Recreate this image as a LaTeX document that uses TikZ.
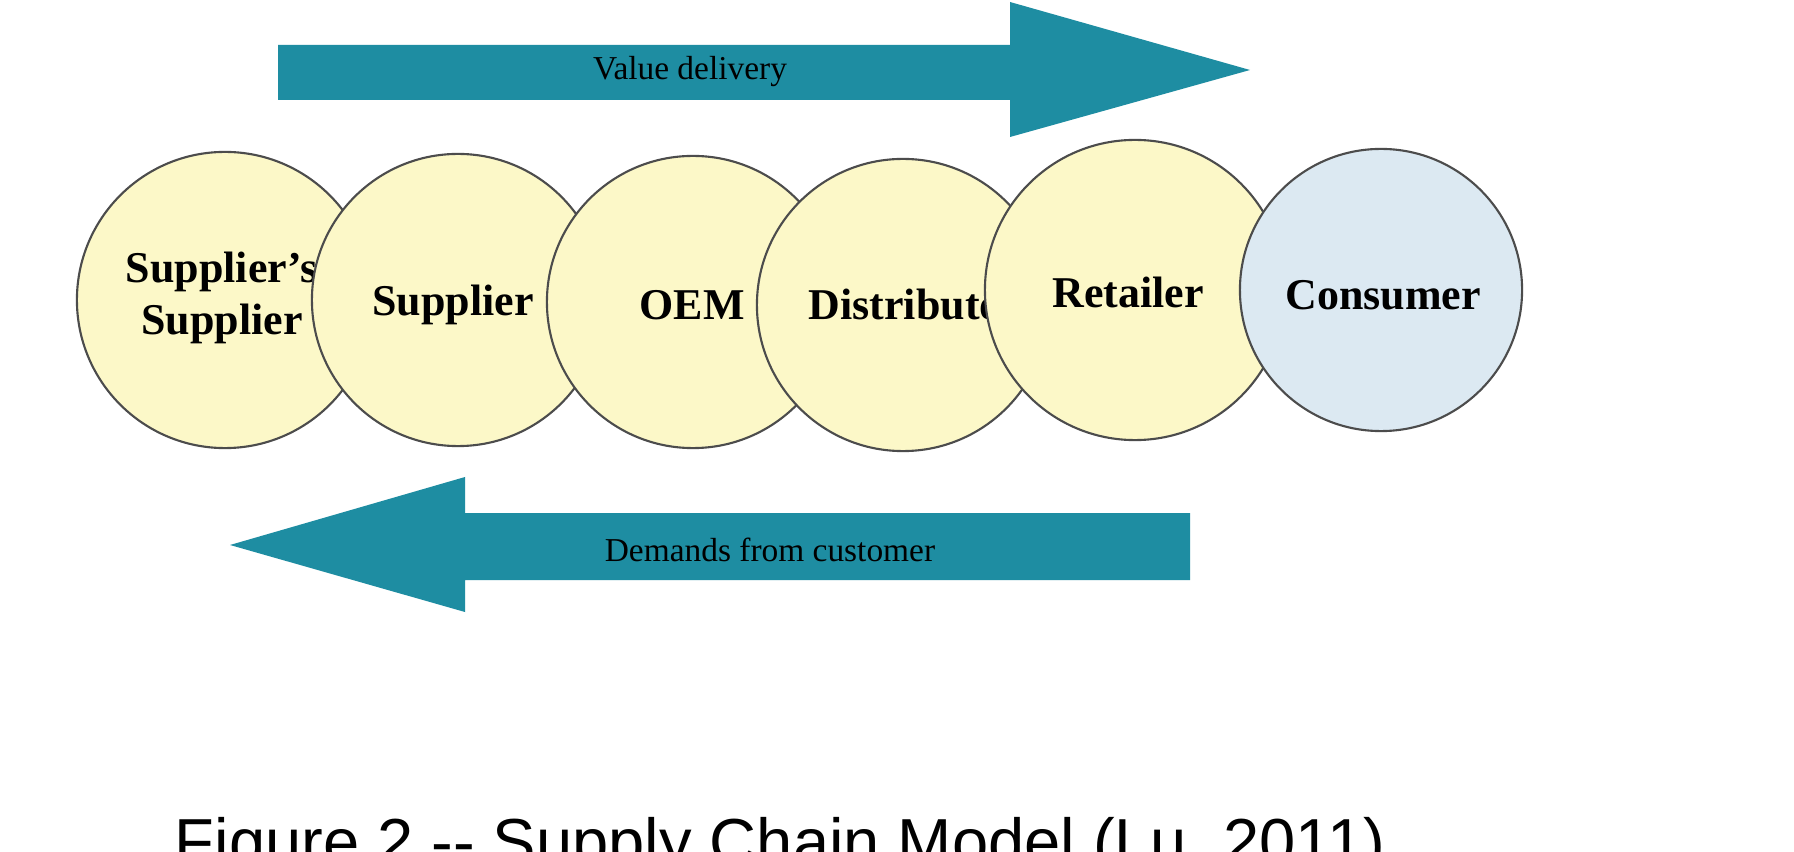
\documentclass[tikz,border=0pt]{standalone}
\usepackage{fontspec}
\setmainfont{Liberation Serif}
\newfontfamily\capfont{Liberation Sans}
\definecolor{teal1}{HTML}{1E8DA2}
\definecolor{cream}{HTML}{FCF8C8}
\definecolor{lblue}{HTML}{DCE9F2}
\begin{document}
\begin{tikzpicture}[x=0.01cm,y=-0.01cm,
  circ/.style={circle,draw=black!70,line width=0.6pt,fill=cream,minimum size=#1,inner sep=0pt},
  ctext/.style={font=\fontsize{12.5}{15}\selectfont\bfseries,align=center},
  arr/.style={fill=teal1},
  lab/.style={font=\fontsize{9.5}{10}\selectfont}]
\clip (0,0) rectangle (1794,852);
\fill[white] (0,0) rectangle (1794,852);
\fill[arr] (278,45) -- (1010,45) -- (1010,2) -- (1250,70) -- (1010,137) -- (1010,100) -- (278,100) -- cycle;
\node[lab] (vd) at (690,72) {Value delivery};
\fill[arr] (1190,513) -- (465,513) -- (465,477) -- (230,545) -- (465,612) -- (465,580) -- (1190,580) -- cycle;
\node[lab] (dc) at (770,550) {Demands from customer};
\node[circ=2.96cm] (c1) at (225,300) {};
\node[ctext] at (222,298) {Supplier's\\Supplier};
\node[circ=2.92cm] (c2) at (458,300) {};
\node[ctext] at (453,305) {Supplier};
\node[circ=2.92cm] (c3) at (693,302) {};
\node[ctext] at (692,305) {OEM};
\node[circ=2.92cm] (c4) at (903,305) {};
\node[ctext] at (915,305) {Distributor};
\node[circ=3.0cm] (c5) at (1135,290) {};
\node[ctext] at (1128,292) {Retailer};
\node[circ=2.82cm,fill=lblue] (c6) at (1381,290) {};
\node[ctext] at (1383,295) {Consumer};
\node (cap) at (780,852) [anchor=base,yshift=-0.12cm,font=\capfont\fontsize{18.5}{20}\selectfont] {Figure 2 -- Supply Chain Model (Lu, 2011)};
\end{tikzpicture}
\end{document}
